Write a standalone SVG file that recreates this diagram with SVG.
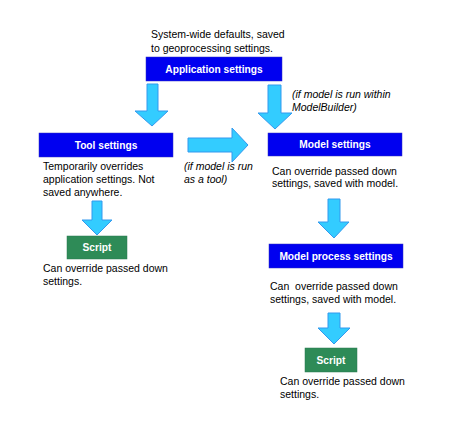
<svg xmlns="http://www.w3.org/2000/svg" width="470" height="432" viewBox="0 0 470 432">
<style>
  text { font-family: "Liberation Sans", Arial, sans-serif; font-size: 10.5px; fill: #000; }
  .lbl { font-size: 10.2px; font-weight: bold; fill: #fff; text-anchor: middle; }
  .it { font-style: italic; }
  .blue { fill: #0000F0; stroke: #3030C0; stroke-width: 0.5; }
  .green { fill: #2E8B57; stroke: #2a7a50; stroke-width: 0.5; }
  .arr { fill: #33CCFF; stroke: #3399EE; stroke-width: 1; stroke-linejoin: miter; }
</style>
<rect width="470" height="432" fill="#fff"/>
<g id="connectors">
  <path class="arr" d="M147,84 H158 V111 H168 L152,126 L135,111 H147 Z"/>
  <path class="arr" d="M268,85 H281 V113 H292 L275,129 L258,113 H268 Z"/>
  <path class="arr" d="M188,138 H232 V128 L248,145 L232,162 V152 H188 Z"/>
  <path class="arr" d="M92,201 H102 V220 H112 L97,235 L82,220 H92 Z"/>
  <path class="arr" d="M328,199 H340 V222 H349 L334,238 L318,222 H328 Z"/>
  <path class="arr" d="M328,313 H340 V328 H350 L334,344 L318,328 H328 Z"/>
</g>
<g id="app">
  <text x="151" y="38">System-wide defaults, saved</text>
  <text x="151" y="52">to geoprocessing settings.</text>
  <rect class="blue" x="146" y="57" width="136" height="24"/>
  <text class="lbl" x="214" y="73">Application settings</text>
</g>
<g id="note-mb">
  <text class="it" x="292" y="98">(if model is run within</text>
  <text class="it" x="292" y="111">ModelBuilder)</text>
</g>
<g id="tool">
  <rect class="blue" x="39" y="133" width="134" height="24"/>
  <text class="lbl" x="106" y="149">Tool settings</text>
  <text x="43" y="170">Temporarily overrides</text>
  <text x="43" y="183">application settings. Not</text>
  <text x="43" y="196">saved anywhere.</text>
</g>
<g id="note-tool">
  <text class="it" x="184" y="170">(if model is run</text>
  <text class="it" x="184" y="183">as a tool)</text>
</g>
<g id="script1">
  <rect class="green" x="67" y="236" width="60" height="23"/>
  <text class="lbl" x="97" y="251">Script</text>
  <text x="43" y="272">Can override passed down</text>
  <text x="43" y="285">settings.</text>
</g>
<g id="model">
  <rect class="blue" x="268" y="133" width="134" height="23"/>
  <text class="lbl" x="335" y="148">Model settings</text>
  <text x="272" y="175">Can override passed down</text>
  <text x="272" y="187">settings, saved with model.</text>
</g>
<g id="process">
  <rect class="blue" x="269" y="244" width="134" height="24"/>
  <text class="lbl" x="336" y="260">Model process settings</text>
  <text x="270" y="290" xml:space="preserve">Can  override passed down</text>
  <text x="270" y="303">settings, saved with model.</text>
</g>
<g id="script2">
  <rect class="green" x="305" y="348" width="52" height="24"/>
  <text class="lbl" x="331" y="364">Script</text>
  <text x="280" y="385">Can override passed down</text>
  <text x="280" y="398">settings.</text>
</g>
</svg>
